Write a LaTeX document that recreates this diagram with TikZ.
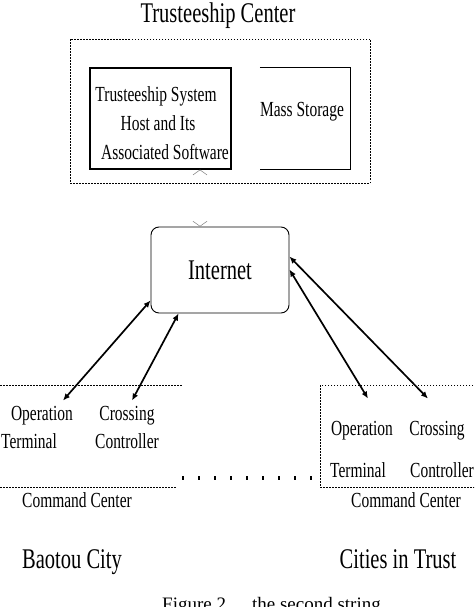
\documentclass[tikz,border=0pt]{standalone}
\usepackage{fontspec}
\setmainfont{Liberation Serif}[FakeStretch=0.72]
\newfontfamily\capfont{Liberation Serif}
\usetikzlibrary{arrows.meta,calc}
\begin{document}
\begin{tikzpicture}[x=1pt,y=-1pt,
  big/.style={font=\fontsize{28.5}{30}\selectfont, inner sep=0pt},
  txt/.style={font=\fontsize{21.5}{28}\selectfont, inner sep=0pt},
  box/.style={draw, line width=1.2pt, inner sep=0pt},
  dotline/.style={line width=0.7pt, dash pattern=on 1.5pt off 1.5pt},
  link/.style={line width=1.7pt, {Latex[length=7pt,width=6pt]}-{Latex[length=7pt,width=6pt]}},
  faint/.style={white, line width=0.3pt,
    {Straight Barb[color=gray,length=5pt,width=14pt,line width=0.5pt]}-{Straight Barb[color=gray,length=5pt,width=14pt,line width=0.5pt]}},
]
\clip (0,0) rectangle (474,607);
\fill[white] (0,0) rectangle (474,607);

% Trusteeship center
\node[big, anchor=base] (title) at (218,23) {Trusteeship Center};
\node[box, minimum width=141pt, minimum height=101pt] (host) at (160.5,118.5) {};
\node[draw, line width=0.9pt, rounded corners=8pt, minimum width=138pt, minimum height=86pt, inner sep=0pt, big] (inet) at (220,270) {Internet};
\draw[faint] ([xshift=39.5pt]host.south) -- ([xshift=-20pt]inet.north);
\node[draw, dotline, minimum width=300pt, minimum height=144pt, inner sep=0pt] (tcenter) at (220,111) {};

\node[txt, anchor=base] (h1) at (156,102) {Trusteeship System};
\node[txt, anchor=base] (h2) at (158,130) {Host and Its};
\node[txt, anchor=base] (h3) at (165,159) {Associated Software};

\node[minimum width=90pt, minimum height=101pt, inner sep=0pt] (mass) at (305,118.5) {};
\draw[line width=1.2pt] (mass.north west) -- (mass.north east) -- (mass.south east) -- (mass.south west);
\node[txt, anchor=base] (masst) at (302,117) {Mass Storage};

% Baotou command center
\coordinate (l1a) at (0,385);
\coordinate (l1b) at (182,385);
\coordinate (l2a) at (0,487);
\coordinate (l2b) at (177,487);
\draw[dotline] (l1a) -- (l1b);
\draw[dotline] (l2a) -- (l2b);
\node[txt, anchor=base] (op1) at (42,420) {Operation};
\node[txt, anchor=base] (term1) at (29,448) {Terminal};
\node[txt, anchor=base] (cr1) at (127,420) {Crossing};
\node[txt, anchor=base] (ctl1) at (127,448) {Controller};
\node[txt, anchor=base] (cc1) at (77,507) {Command Center};

% Cities in trust command center
\coordinate (r1) at (476,385);
\coordinate (r2) at (320,385);
\coordinate (r3) at (320,487);
\coordinate (r4) at (476,487);
\draw[dotline] (r1) -- (r2) -- (r3) -- (r4);
\node[txt, anchor=base] (op2) at (362,435) {Operation};
\node[txt, anchor=base] (term2) at (358,477) {Terminal};
\node[txt, anchor=base] (cr2) at (437,435) {Crossing};
\node[txt, anchor=base] (ctl2) at (442,477) {Controller};
\node[txt, anchor=base] (cc2) at (406,507) {Command Center};

% dots
\foreach \i in {0,...,8} \fill (183+16*\i-1.4,478-2.2) rectangle ++(2.8,4.4);

% links
\draw[link] ([yshift=13pt]inet.south west) -- ([xshift=21pt,yshift=5pt]op1.north);
\draw[link] ([xshift=28pt]inet.south west) -- ([xshift=5pt,yshift=5pt]cr1.north);
\draw[link] ([yshift=-43pt]inet.north east) -- ([xshift=6pt,yshift=22pt]op2.north);
\draw[link] ([yshift=-30pt]inet.north east) -- ([xshift=-9pt,yshift=22pt]cr2.north);

% cities
\node[big, anchor=base] (bt) at (72,568) {Baotou City};
\node[big, anchor=base] (ct) at (398,568) {Cities in Trust};

% caption
\node[font=\capfont\fontsize{19}{20}\selectfont, inner sep=0pt, anchor=base west] (cap) at (162,610.6) {Figure 2\hspace{26pt}the second string};
\end{tikzpicture}
\end{document}
